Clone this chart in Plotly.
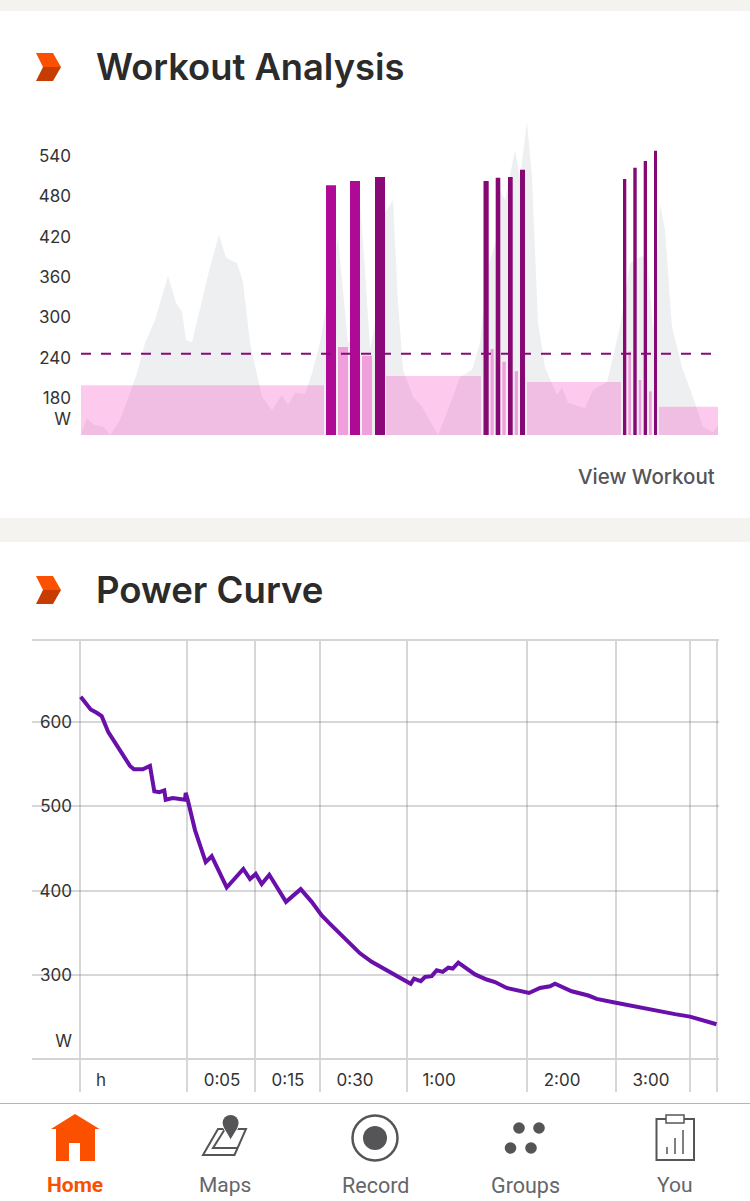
import plotly.graph_objects as go

W_PX, H_PX = 750, 1201

# ---------- Workout Analysis data ----------
power_time = [0, 6, 13, 23, 29, 39, 49, 56, 64, 74, 87, 95, 101, 105, 111, 119, 129, 138, 145, 156, 162,
              169, 177, 181, 191, 201, 207, 214, 224, 231, 239, 246, 257, 260, 267, 271, 279, 284, 289, 293,
              304, 312, 317, 322, 332, 341, 357, 367, 379, 391, 399, 407, 415, 419, 424, 434, 439, 446, 451,
              457, 464, 476, 481, 487, 504, 512, 526, 529, 539, 549, 559, 566, 572, 579, 584, 591, 601, 614,
              622, 632, 637]
power_watts = [125, 150, 140, 137, 125, 147, 188, 217, 262, 296, 362, 322, 308, 266, 263, 311, 375, 423, 389, 381, 353,
               262, 211, 182, 162, 185, 170, 188, 186, 217, 262, 326, 420, 371, 262, 266, 470, 371, 252, 281,
               456, 475, 322, 222, 182, 167, 125, 162, 211, 222, 262, 375, 415, 490, 475, 549, 508, 591, 509,
               292, 226, 185, 196, 173, 165, 192, 204, 222, 286, 381, 390, 393, 281, 470, 430, 286, 226, 173,
               137, 129, 140]

recovery_start = [0, 305, 446, 578]
recovery_end = [243, 400, 540, 637]
recovery_top = [199, 213, 204, 167]

rest_start = [257, 281, 409.5, 421.3, 433.7, 547.3, 557.7, 568]
rest_end = [267, 291, 412.7, 424.7, 437, 550, 560.3, 570.7]
rest_top = [256, 243, 253, 234, 220, 249, 207, 190]

effort_start = [245, 269, 294, 402.5, 414.7, 427, 439, 542, 552.3, 562.7, 573]
effort_end = [255, 279, 304, 407.7, 419.3, 431.7, 444, 545.3, 555.7, 566, 576]
effort_top = [497, 503, 509, 503, 508, 509, 520, 506, 523, 533, 548]
effort_colors = ["#AE0A96", "#AE0A96", "#8A0878", "#860872", "#860872", "#860872", "#860872",
                 "#860872", "#860872", "#860872", "#860872"]

ftp_time = [0, 630]
ftp_watts = [246, 246]
workout_ticks = [149, 180, 240, 300, 360, 420, 480, 540]
workout_labels = ["W", "180", "240", "300", "360", "420", "480", "540"]

# ---------- Power Curve data ----------
curve_pos = [0.7, 10.7, 16.7, 21.7, 28.3, 36.7, 44, 50, 54, 62.7, 70, 74.3, 79.3, 84.3, 85.7, 92.7, 105, 105.7, 107.7,
             115, 125.7, 131.7, 146.7, 163.3, 170, 175.7, 181.7, 189.3, 206, 220.7, 231.7, 241.7, 250, 266.7, 280,
             291.7, 306.7, 319.3, 326.7, 330.7, 334, 340.7, 345, 351.7, 356.7, 362.7, 368.3, 372.7, 378.3, 395,
             406.7, 415, 426.7, 446.7, 449, 460, 470, 475, 491.7, 508.3, 516.7, 533.3, 560, 573.3, 595, 610, 625, 636.5]
curve_watts = [630, 615, 611, 607, 588, 572, 560, 548, 544, 544, 548, 518, 517, 519, 508, 510, 508, 516, 508,
               472, 434, 441, 404, 426, 414, 420, 408, 419, 387, 402, 387, 371, 361, 342, 326,
               316, 306, 298, 294, 290, 296, 293, 298, 299, 306, 304, 309, 308, 315, 301,
               295, 292, 285, 279, 279, 285, 287, 290, 281, 276, 272, 268, 262, 258, 254, 251, 246, 242]
curve_grid = [0, 107, 175, 239.5, 327, 447, 536, 610, 637]
curve_label_pos = [21, 142, 208, 275, 359, 482, 571]
curve_labels = ["h", "0:05", "0:15", "0:30", "1:00", "2:00", "3:00"]
curve_grid_y = [300, 400, 500, 600]
curve_ticks = [222, 300, 400, 500, 600]
curve_tick_labels = ["W", "300", "400", "500", "600"]

FONT = "Inter"
ORANGE = "#FA5000"
ICON = "#555558"


def px(x):
    return x / W_PX


def py(y):
    return 1 - y / H_PX


def path(points, close=True):
    s = "M" + " L".join(f"{px(x):.5f},{py(y):.5f}" for x, y in points)
    return s + (" Z" if close else "")


def poly(points, fill=None, line=None, lw=0, close=True, layer="above"):
    return dict(type="path", xref="paper", yref="paper", path=path(points, close), layer=layer,
                fillcolor=fill if fill else "rgba(0,0,0,0)",
                line=dict(color=line if line else "rgba(0,0,0,0)", width=lw))


def rect(x0, y0, x1, y1, fill=None, line=None, lw=0, layer="above"):
    return dict(type="rect", xref="paper", yref="paper", x0=px(x0), x1=px(x1), y0=py(y0), y1=py(y1), layer=layer,
                fillcolor=fill if fill else "rgba(0,0,0,0)",
                line=dict(color=line if line else "rgba(0,0,0,0)", width=lw))


def circle(cx, cy, r, fill=None, line=None, lw=0):
    return dict(type="circle", xref="paper", yref="paper", x0=px(cx - r), x1=px(cx + r), y0=py(cy + r), y1=py(cy - r),
                fillcolor=fill if fill else "rgba(0,0,0,0)",
                line=dict(color=line if line else "rgba(0,0,0,0)", width=lw))


def chevron(dy):
    return [
        poly([(36, 53 + dy), (53, 53 + dy), (61, 67 + dy), (43, 67 + dy)], fill=ORANGE),
        poly([(43, 67 + dy), (61, 67 + dy), (53, 81 + dy), (36, 81 + dy)], fill="#C63C02"),
    ]


def centers(a, b):
    return [(p + q) / 2 for p, q in zip(a, b)]


def widths(a, b):
    return [q - p for p, q in zip(a, b)]


fig = go.Figure()
fig.add_trace(go.Scatter(x=power_time, y=power_watts, mode="lines", fill="tozeroy", fillcolor="#EEEFF1",
                         line=dict(width=0, color="#EEEFF1"), hoverinfo="skip", xaxis="x", yaxis="y"))
fig.add_trace(go.Bar(x=centers(recovery_start, recovery_end), y=recovery_top, width=widths(recovery_start, recovery_end),
                     marker=dict(color="rgba(248,60,190,0.27)", line=dict(width=0)), xaxis="x2", yaxis="y2"))
fig.add_trace(go.Bar(x=centers(rest_start, rest_end), y=rest_top, width=widths(rest_start, rest_end),
                     marker=dict(color="#EFA0DC", line=dict(width=0)), xaxis="x2", yaxis="y2"))
fig.add_trace(go.Bar(x=centers(effort_start, effort_end), y=effort_top, width=widths(effort_start, effort_end),
                     marker=dict(color=effort_colors, line=dict(width=0)), xaxis="x2", yaxis="y2"))
fig.add_trace(go.Scatter(x=ftp_time, y=ftp_watts, mode="lines", xaxis="x2", yaxis="y2",
                         line=dict(color="#8A0878", width=2, dash="10px,10px")))
fig.add_trace(go.Scatter(x=[None], y=[None], mode="lines", xaxis="x3", yaxis="y3", hoverinfo="skip"))
fig.add_trace(go.Scatter(x=curve_pos, y=curve_watts, mode="lines", xaxis="x4", yaxis="y4",
                         line=dict(color="#690FAA", width=4)))

GRID = "rgba(110,110,120,0.28)"
GRID_W = 2
tick_font = dict(family=FONT, size=17, color="#333333")

shapes = [
    rect(0, 0, 750, 11, fill="#F4F3EF", layer="below"),
    rect(0, 518, 750, 542, fill="#F4F3EF", layer="below"),
    rect(0, 1103, 750, 1104, fill="#B4B4B4", layer="below"),
]
shapes += chevron(0) + chevron(523)
# Home
shapes.append(poly([(75, 1114), (99.5, 1129), (95, 1129), (95, 1161), (80, 1161), (80, 1143), (69, 1143), (69, 1161),
                    (56, 1161), (56, 1129), (51, 1129)], fill=ORANGE))
# Maps
shapes.append(poly([(218, 1129), (246, 1129), (234.5, 1155), (203, 1155)], line=ICON, lw=2))
shapes.append(poly([(225, 1129), (213, 1148), (238, 1148)], line=ICON, lw=2, close=False))
shapes.append(poly([(223, 1127), (238.5, 1127), (230.6, 1140)], fill=ICON, line="#FFFFFF", lw=1))
shapes.append(circle(230.6, 1123, 8, fill=ICON))
# Record
shapes.append(circle(375, 1138, 22.5, line=ICON, lw=2.5))
shapes.append(circle(375, 1138, 12, fill=ICON))
# Groups
for cx, cy in [(519, 1128), (539, 1128), (510.5, 1148), (531, 1148)]:
    shapes.append(circle(cx, cy, 5.8, fill=ICON))
# You
shapes.append(rect(656.5, 1119, 694, 1160, line=ICON, lw=2))
shapes.append(rect(666, 1115, 684, 1123, fill="#FFFFFF", line=ICON, lw=1.5))
for bx, by in [(667, 1147), (675, 1138), (683, 1130)]:
    shapes.append(poly([(bx, by), (bx, 1154)], line=ICON, lw=1.5, close=False))


def note(text, x, y, size, color, weight=400, anchor="center", family=FONT):
    return dict(text=text, xref="paper", yref="paper", x=px(x), y=py(y), xanchor=anchor, yanchor="middle",
                showarrow=False, font=dict(family=family, size=size, color=color, weight=weight))


annotations = [
    note("Workout Analysis", 94, 67, 36.3, "#2B2B2B", 600, "left"),
    note("Power Curve", 94, 590, 36.6, "#2B2B2B", 600, "left"),
    note("View Workout", 717, 477, 20.5, "#555558", 500, "right"),
    note("Home", 75, 1185, 21, ORANGE, 700, family="Roboto"),
    note("Maps", 225, 1185, 21, "#66666A", family="Roboto"),
    note("Record", 375, 1185, 21.5, "#66666A", family="Roboto"),
    note("Groups", 525, 1185, 21.5, "#66666A", family="Roboto"),
    note("You", 675, 1185, 21, "#66666A", family="Roboto"),
]

fig.update_layout(
    width=W_PX, height=H_PX, autosize=False, margin=dict(l=0, r=0, t=0, b=0),
    paper_bgcolor="#FFFFFF", plot_bgcolor="rgba(0,0,0,0)", showlegend=False, barmode="overlay",
    shapes=shapes, annotations=annotations, font=dict(family=FONT),
    xaxis=dict(domain=[px(81), px(718)], range=[0, 637], visible=False, anchor="y"),
    yaxis=dict(domain=[py(435), py(115)], range=[125, 601.4], anchor="x", showgrid=False, zeroline=False,
               showline=False, tickmode="array", tickvals=workout_ticks, ticktext=workout_labels,
               tickfont=tick_font, ticks="", ticklabelstandoff=9),
    xaxis2=dict(domain=[px(81), px(718)], range=[0, 637], visible=False, overlaying="x", anchor="y2"),
    yaxis2=dict(domain=[py(435), py(115)], range=[125, 601.4], visible=False, overlaying="y", anchor="x2"),
    xaxis3=dict(domain=[px(32), px(718.5)], range=[-48, 638.5], anchor="y3", tickmode="array", tickvals=curve_grid,
                ticktext=[""] * len(curve_grid), showgrid=True, gridcolor=GRID, gridwidth=GRID_W, zeroline=False,
                ticks="outside", ticklen=32, tickwidth=GRID_W, tickcolor=GRID, showline=True, mirror=True,
                linecolor="#D4D4D6", linewidth=GRID_W),
    yaxis3=dict(domain=[py(1058), py(641)], range=[202, 696], anchor="x3", tickmode="array", tickvals=curve_grid_y,
                ticktext=[""] * len(curve_grid_y), showgrid=True, gridcolor=GRID, gridwidth=GRID_W, zeroline=False,
                ticks="", showline=False),
    xaxis4=dict(domain=[px(32), px(718.5)], range=[-48, 638.5], overlaying="x3", anchor="y4", tickmode="array",
                tickvals=curve_label_pos, ticktext=curve_labels, tickfont=tick_font, ticks="", showgrid=False,
                zeroline=False, showline=False, ticklabelstandoff=10),
    yaxis4=dict(domain=[py(1058), py(641)], range=[202, 696], overlaying="y3", anchor="free", position=px(81),
                tickmode="array", tickvals=curve_ticks, ticktext=curve_tick_labels, tickfont=tick_font, ticks="",
                showgrid=False, zeroline=False, showline=False, ticklabelstandoff=9),
)

fig.write_html("out.html", config=dict(displayModeBar=False),
               post_script="document.body.style.margin='0';document.body.style.overflow='hidden';")
